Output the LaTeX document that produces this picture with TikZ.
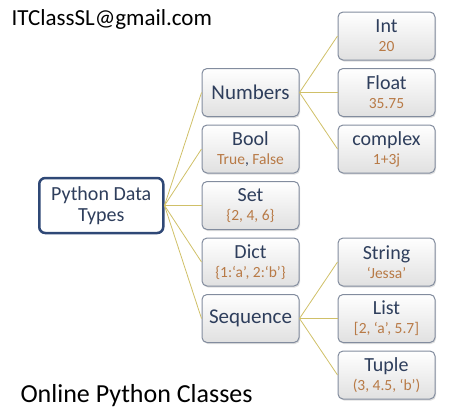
\documentclass[tikz,border=0pt]{standalone}
\usepackage{fontspec}
\setmainfont{Carlito}
\usepackage{xcolor}
\usepackage{tikz}
\usetikzlibrary{positioning,shadows}

\definecolor{dtmain}{RGB}{46,62,92}
\definecolor{dtval}{RGB}{184,122,70}
\definecolor{dtedge}{RGB}{130,140,158}
\definecolor{dtroot}{RGB}{47,72,118}
\definecolor{dtlink}{RGB}{208,192,104}
\newcommand{\dtsub}[1]{{\fontsize{15.5}{17}\selectfont\color{dtval}#1}}
\newcommand{\dtbig}{\fontsize{21}{23}\selectfont}

\begin{document}
\begin{tikzpicture}[x=1pt, y=-1pt,
    dt box/.style={rectangle, draw=dtedge, line width=1pt, rounded corners=5pt, align=center,
        top color=white, bottom color=black!12, text=dtmain, minimum width=97pt, minimum height=48pt,
        inner sep=2pt, font=\fontsize{20}{19}\selectfont,
        drop shadow={opacity=0.25, shadow xshift=1pt, shadow yshift=-1.5pt}},
    dt root/.style={rectangle, draw=dtroot, line width=2.5pt, rounded corners=6pt, align=center,
        fill=white, text=dtmain, minimum width=124pt, minimum height=55pt,
        font=\fontsize{20}{21}\selectfont},
    dt link/.style={draw=dtlink, line width=0.8pt}]

    \useasboundingbox (0,0) rectangle (474,413);

    \node [anchor=base west, font=\fontsize{23}{25}\selectfont] (mail) at (8,25) {ITClassSL@gmail.com};
    \node [anchor=base west, font=\fontsize{26}{28}\selectfont] (online) at (17,402) {Online Python Classes};

    \node [dt box] (set) at (250.5,205.5) {Set\\\dtsub{\{2, 4, 6\}}};
    \node [dt box, above=7.5pt of set] (bool) {Bool\\{\fontsize{15.5}{17}\selectfont\textcolor{dtval}{True}, \textcolor{dtval}{False}}};
    \node [dt box, above=7.5pt of bool] (numbers) {\dtbig Numbers};
    \node [dt box, below=7.5pt of set] (dict) {Dict\\\dtsub{\{1:‘a’, 2:‘b’\}}};
    \node [dt box, below=7.5pt of dict] (sequence) {\dtbig Sequence};

    \node [dt root, left=37pt of set] (pdt) {Python Data\\Types};

    \node [dt box, right=38pt of numbers] (float) {Float\\\dtsub{35.75}};
    \node [dt box, above=7.5pt of float] (int) {Int\\\dtsub{20}};
    \node [dt box, below=7.5pt of float] (complex) {complex\\\dtsub{1+3j}};

    \node [dt box, right=38pt of dict] (string) {String\\\dtsub{‘Jessa’}};
    \node [dt box, right=38pt of sequence] (list) {List\\\dtsub{[2, ‘a’, 5.7]}};
    \node [dt box, below=7.5pt of list] (tuple) {Tuple\\\dtsub{(3, 4.5, ‘b’)}};

    \draw [dt link] (pdt.east) -- (numbers.west);
    \draw [dt link] (pdt.east) -- (bool.west);
    \draw [dt link] (pdt.east) -- (set.west);
    \draw [dt link] (pdt.east) -- (dict.west);
    \draw [dt link] (pdt.east) -- (sequence.west);

    \draw [dt link] (numbers.east) -- (int.west);
    \draw [dt link] (numbers.east) -- (float.west);
    \draw [dt link] (numbers.east) -- (complex.west);

    \draw [dt link] (sequence.east) -- (string.west);
    \draw [dt link] (sequence.east) -- (list.west);
    \draw [dt link] (sequence.east) -- (tuple.west);

\end{tikzpicture}
\end{document}
